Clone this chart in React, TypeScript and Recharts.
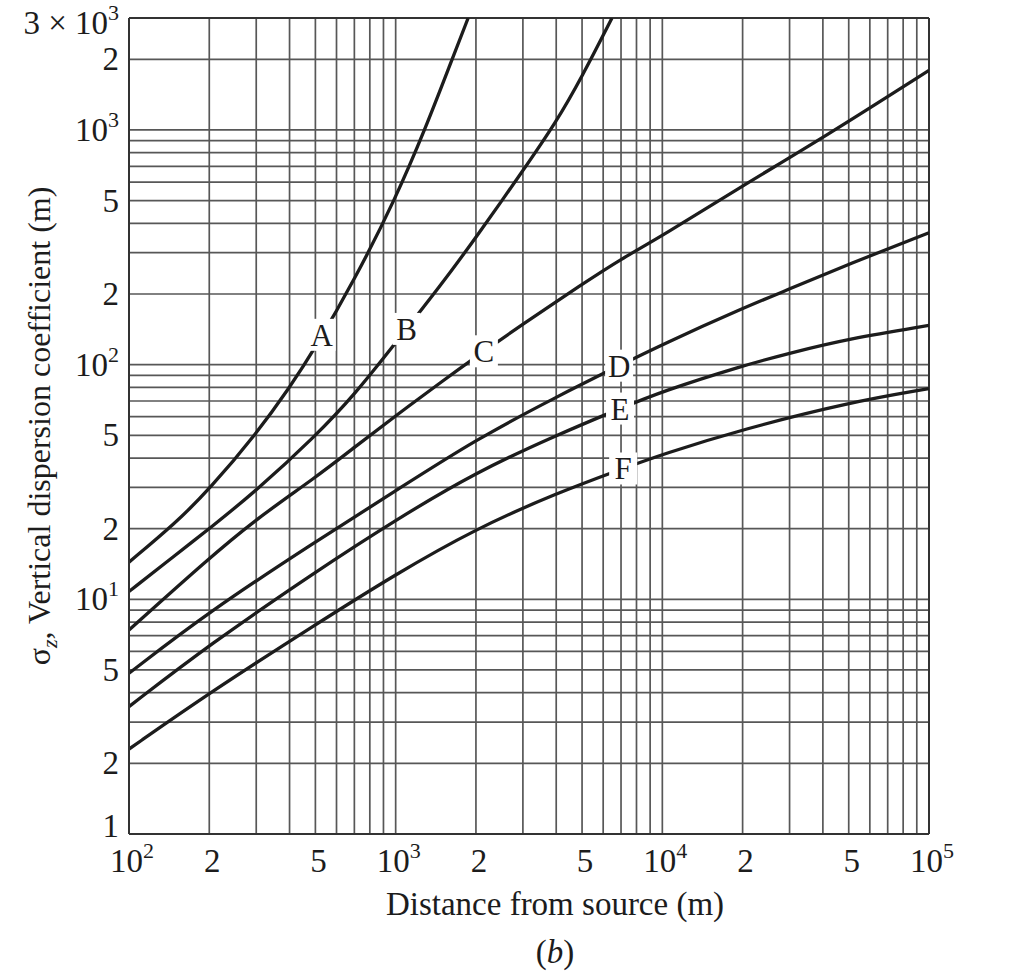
import { LineChart, Line, XAxis, YAxis, ReferenceLine, ReferenceDot } from 'recharts';

// 横軸・縦軸の目盛り
const xTicks = [100, 200, 500, 1000, 2000, 5000, 10000, 20000, 50000, 100000];
const xTickLabels = ['10|2', '2', '5', '10|3', '2', '5', '10|4', '2', '5', '10|5'];
const yTicks = [1, 2, 5, 10, 20, 50, 100, 200, 500, 1000, 2000, 3000];
const yTickLabels = ['1', '2', '5', '10|1', '2', '5', '10|2', '2', '5', '10|3', '2', '3 × 10|3'];

// 対数グリッド（各桁の 1〜9 倍）
const mantissas = [1, 2, 3, 4, 5, 6, 7, 8, 9];
const xDecades = [100, 1000, 10000];
const yDecades = [1, 10, 100, 1000];

// 安定度クラス別の σz 曲線（距離 m, σz m）
const aDist = [100, 150, 200, 300, 400, 500, 700, 1000, 1300, 1600, 1870];
const aSigma = [14.4, 21.2, 29.4, 50.7, 79.8, 118, 229, 511, 1030, 1900, 3000];
const bDist = [100, 150, 200, 300, 500, 700, 1000, 1500, 2000, 3000, 4000, 5000, 6475];
const bSigma = [10.8, 15.5, 20, 29, 49.6, 74.3, 124, 223, 348, 670, 1080, 1687, 3000];
const cDist = [100, 200, 300, 500, 700, 1000, 1500, 2000, 3000, 5000, 7000, 10000, 20000, 40000, 100000];
const cSigma = [7.4, 15, 22, 33, 44.4, 60.6, 85.2, 107.9, 149, 220, 282, 354, 579, 925, 1795];
const dDist = [100, 200, 500, 1000, 2000, 4000, 6885, 10000, 20000, 30000, 50000, 100000];
const dSigma = [4.84, 8.87, 17.6, 29, 48, 72.8, 99, 122, 174, 210, 268, 365];
const eDist = [100, 200, 500, 1000, 2000, 4000, 6940, 10000, 20000, 30000, 50000, 100000];
const eSigma = [3.49, 6.4, 13.1, 21.8, 34.8, 50, 65, 77, 99, 112, 129, 147];
const fDist = [100, 200, 500, 1000, 2000, 4000, 7130, 10000, 20000, 50000, 100000];
const fSigma = [2.3, 3.99, 7.8, 12.8, 20, 28.3, 36.1, 41.5, 53, 69, 79];

// 曲線ラベルの位置
const labelNames = ['A', 'B', 'C', 'D', 'E', 'F'];
const labelDist = [528, 1099, 2142, 6885, 6940, 7130];
const labelSigma = [134, 142, 114, 99, 65, 36.1];

const FONT = "'Liberation Serif', 'Times New Roman', serif";
const INK = '#1c1c1c';

const toPoints = (xs: number[], ys: number[]) => xs.map((x, i) => ({ x, y: ys[i] }));

const series = [
  toPoints(aDist, aSigma),
  toPoints(bDist, bSigma),
  toPoints(cDist, cSigma),
  toPoints(dDist, dSigma),
  toPoints(eDist, eSigma),
  toPoints(fDist, fSigma),
];

const gridX = xDecades.flatMap((d) => mantissas.map((m) => d * m)).filter((v) => v > 100);
const gridY = yDecades.flatMap((d) => mantissas.map((m) => d * m)).filter((v) => v > 1 && v < 3000);

function tickText(label: string, x: number, y: number, anchor: 'middle' | 'end') {
  const [base, sup] = label.split('|');
  return (
    <text x={x} y={y} textAnchor={anchor} fontFamily={FONT} fontSize={33} fill={INK}>
      {base}
      {sup && (
        <tspan dy={-14} fontSize={22}>
          {sup}
        </tspan>
      )}
    </text>
  );
}

function XTick(props: any) {
  const { x, payload } = props;
  const i = xTicks.indexOf(payload.value);
  return tickText(xTickLabels[i] ?? '', x + 3, 872, 'middle');
}

function YTick(props: any) {
  const { y, payload } = props;
  const i = yTicks.indexOf(payload.value);
  let dy = 11;
  if (payload.value === 3000) dy = 16;
  if (payload.value === 1) dy = 3;
  return tickText(yTickLabels[i] ?? '', 119, y + dy, 'end');
}

function CurveLabel(props: any) {
  const { cx, cy, name } = props;
  return (
    <g>
      <rect x={cx - 14} y={cy - 16} width={28} height={32} fill="#fff" />
      <text x={cx} y={cy + 11} textAnchor="middle" fontFamily={FONT} fontSize={31} fill={INK}>
        {name}
      </text>
    </g>
  );
}

export default function App() {
  return (
    <div style={{ position: 'absolute', left: 0, top: 0, width: 1024, height: 980, background: '#fff' }}>
      <LineChart width={1024} height={980} margin={{ top: 18, right: 95, bottom: 0, left: 0 }}>
        <XAxis
          type="number"
          dataKey="x"
          scale="log"
          domain={[100, 100000]}
          ticks={xTicks}
          interval={0}
          allowDataOverflow
          height={146}
          tickLine={false}
          axisLine={{ stroke: '#333', strokeWidth: 2 }}
          tick={<XTick />}
        />
        <YAxis
          type="number"
          dataKey="y"
          scale="log"
          domain={[1, 3000]}
          ticks={yTicks}
          interval={0}
          allowDataOverflow
          width={129}
          tickLine={false}
          axisLine={{ stroke: '#333', strokeWidth: 2 }}
          tick={<YTick />}
        />
        {gridX.map((v) => (
          <ReferenceLine key={`gx${v}`} x={v} stroke="#575757" strokeWidth={1.7} />
        ))}
        {gridY.map((v) => (
          <ReferenceLine key={`gy${v}`} y={v} stroke="#575757" strokeWidth={1.7} />
        ))}
        <ReferenceLine x={100000} stroke="#333" strokeWidth={2} />
        <ReferenceLine y={3000} stroke="#333" strokeWidth={2} />
        {series.map((pts, i) => (
          <Line
            key={labelNames[i]}
            data={pts}
            dataKey="y"
            type="basis"
            stroke={INK}
            strokeWidth={3.3}
            dot={false}
            activeDot={false}
            isAnimationActive={false}
          />
        ))}
        {labelNames.map((n, i) => (
          <ReferenceDot
            key={`lbl${n}`}
            x={labelDist[i]}
            y={labelSigma[i]}
            r={1}
            shape={(p: any) => <CurveLabel {...p} name={n} />}
          />
        ))}
        <text x={555} y={915} textAnchor="middle" fontFamily={FONT} fontSize={33} fill={INK}>
          Distance from source (m)
        </text>
        <text x={555} y={963} textAnchor="middle" fontFamily={FONT} fontSize={33} fill={INK}>
          (<tspan fontStyle="italic">b</tspan>)
        </text>
        <text
          x={0}
          y={0}
          transform="translate(50, 426) rotate(-90)"
          textAnchor="middle"
          fontFamily={FONT}
          fontSize={32}
          fill={INK}
        >
          σ<tspan fontStyle="italic" fontSize={22} dy={7}>z</tspan>
          <tspan dy={-7}>, Vertical dispersion coefficient (m)</tspan>
        </text>
      </LineChart>
    </div>
  );
}
